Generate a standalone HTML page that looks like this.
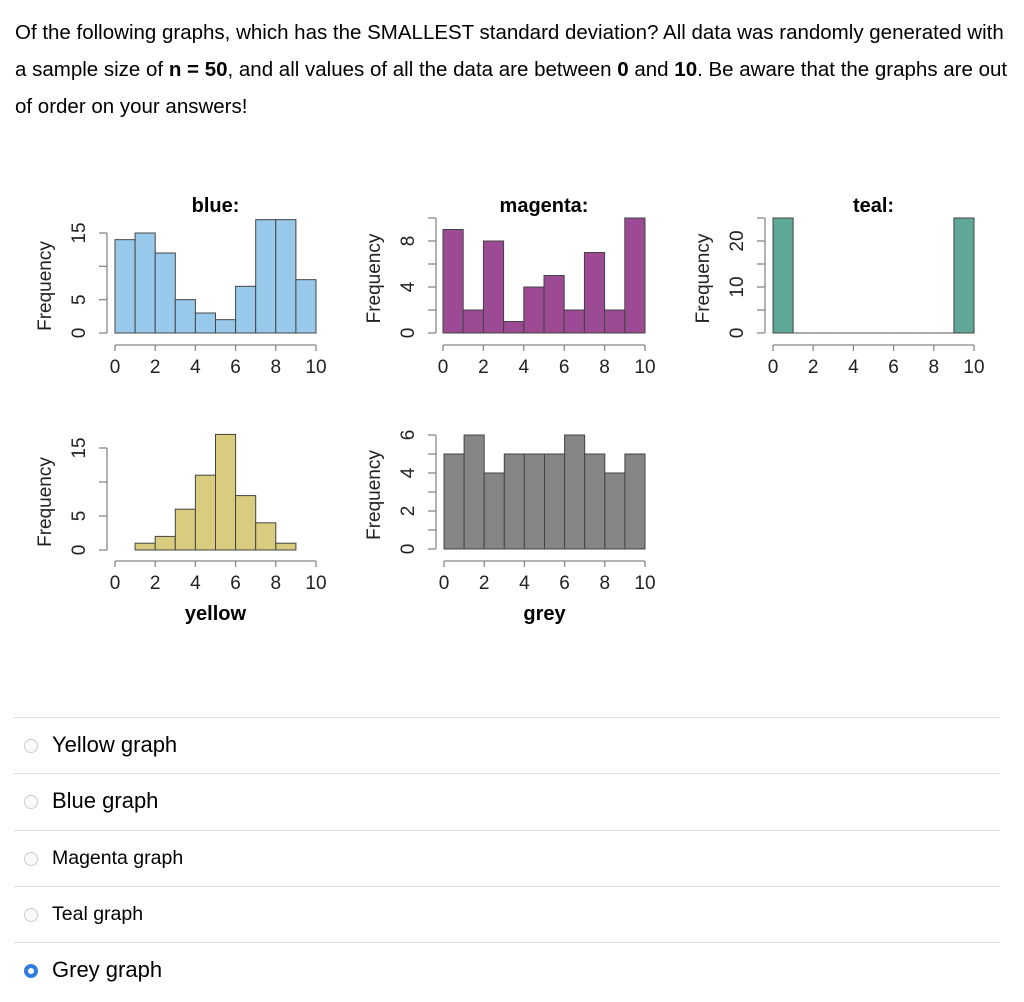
<!DOCTYPE html>
<html><head><meta charset="utf-8">
<style>
body{margin:0;background:#fff;font-family:"Liberation Sans",Arial,sans-serif;color:#000;width:1024px;height:1002px;overflow:hidden;position:relative}
#q{position:absolute;left:15px;top:14px;width:1000px;font-size:20.5px;line-height:37px}
#chart{position:absolute;left:0;top:0}
.opt{position:absolute;left:14px;width:986px;height:56px;border-top:1px solid #ddd}
.opt .r{position:absolute;left:10px;top:21px;width:14px;height:14px;border:1px solid #ccc;border-radius:50%;box-sizing:border-box;background:#fafafa}
.opt .r.on{border:4px solid #2f7de1;background:#fff}
.opt .t{position:absolute;left:38px;top:14px;font-size:22px}
</style></head><body>
<div id="q">Of the following graphs, which has the SMALLEST standard deviation? All data was randomly generated with a sample size of <b>n = 50</b>, and all values of all the data are between <b>0</b> and <b>10</b>. Be aware that the graphs are out of order on your answers!</div>
<svg id="chart" width="1024" height="700"></svg>
<div class="opt" style="top:717px"><div class="r"></div><div class="t">Yellow graph</div></div>
<div class="opt" style="top:773px"><div class="r"></div><div class="t">Blue graph</div></div>
<div class="opt" style="top:830px"><div class="r"></div><div class="t" style="font-size:19.5px;top:16px">Magenta graph</div></div>
<div class="opt" style="top:886px"><div class="r"></div><div class="t" style="font-size:19.5px;top:16px">Teal graph</div></div>
<div class="opt" style="top:942px"><div class="r on"></div><div class="t">Grey graph</div></div>
<script>
const binEdges=[0,1,2,3,4,5,6,7,8,9,10];
const xTicks=[0,2,4,6,8,10];
const blueCounts=[14,15,12,5,3,2,7,17,17,8];
const magentaCounts=[9,2,8,1,4,5,2,7,2,10];
const tealCounts=[25,0,0,0,0,0,0,0,0,25];
const yellowCounts=[0,1,2,6,11,17,8,4,1,0];
const greyCounts=[5,6,4,5,5,5,6,5,4,5];
const blueYTicks=[0,5,10,15], blueYLabels=[0,5,15];
const magentaYTicks=[0,2,4,6,8,10], magentaYLabels=[0,4,8];
const tealYTicks=[0,5,10,15,20,25], tealYLabels=[0,10,20];
const yellowYTicks=[0,5,10,15], yellowYLabels=[0,5,15];
const greyYTicks=[0,1,2,3,4,5,6], greyYLabels=[0,2,4,6];

const svg=document.getElementById('chart');
const NS='http://www.w3.org/2000/svg';
function mk(tag,attrs,parent){const e=document.createElementNS(NS,tag);for(const k in attrs)e.setAttribute(k,attrs[k]);(parent||svg).appendChild(e);return e;}

function hist(name,counts,yTicks,yLabels,ymax,color,o){
  const g=mk('g',{});
  
  
  const xs=v=>o.x0+(v-binEdges[0])/(binEdges[binEdges.length-1]-binEdges[0])*(o.x1-o.x0);
  const ys=v=>o.y0-(v/ymax)*(o.y0-o.yTop);
  counts.forEach((c,i)=>{
    if(c<=0){ if(name==='teal'){const l=mk('line',{x1:xs(binEdges[i]),x2:xs(binEdges[i+1]),y1:o.y0,y2:o.y0,stroke:'#555','stroke-width':1},g);} return;}
    const r=mk('rect',{x:xs(binEdges[i]),y:ys(c),width:xs(binEdges[i+1])-xs(binEdges[i]),height:o.y0-ys(c),fill:color,stroke:'#444','stroke-width':1},g);
    
    
  });
  // x axis
  const xa=mk('g',{},g);
  
  
  mk('line',{x1:xs(xTicks[0]),x2:xs(xTicks[xTicks.length-1]),y1:o.ax,y2:o.ax,stroke:'#888','stroke-width':1.3},xa);
  xTicks.forEach(t=>{
    mk('line',{x1:xs(t),x2:xs(t),y1:o.ax,y2:o.ax+6,stroke:'#888','stroke-width':1.3},xa);
    const tx=mk('text',{x:xs(t),y:o.ax+28,'text-anchor':'middle','font-size':19,fill:'#222'},xa);
    tx.textContent=t;
  });
  // y axis
  const ya=mk('g',{},g);
  
  
  mk('line',{x1:o.yx,x2:o.yx,y1:ys(yTicks[0]),y2:ys(yTicks[yTicks.length-1]),stroke:'#888','stroke-width':1.3},ya);
  yTicks.forEach(t=>mk('line',{x1:o.yx-8,x2:o.yx,y1:ys(t),y2:ys(t),stroke:'#888','stroke-width':1.3},ya));
  yLabels.forEach(t=>{
    const tx=mk('text',{x:0,y:0,'text-anchor':'middle','font-size':19,fill:'#222',transform:`translate(${o.yx-22},${ys(t)}) rotate(-90)`},ya);
    tx.textContent=t;
  });
  const yl=mk('text',{x:0,y:0,'text-anchor':'middle','font-size':19,fill:'#222',transform:`translate(${o.yx-56},${(o.y0+o.yTop)/2+3}) rotate(-90)`},g);
  yl.textContent='Frequency';
  
  
  if(o.title){const t=mk('text',{x:(o.x0+o.x1)/2,y:212,'text-anchor':'middle','font-size':20,'font-weight':'bold'},g);t.textContent=o.title;}
  if(o.xlabel){const t=mk('text',{x:(o.x0+o.x1)/2,y:620,'text-anchor':'middle','font-size':20,'font-weight':'bold'},g);t.textContent=o.xlabel;}
}
hist('blue',blueCounts,blueYTicks,blueYLabels,15,'#98c9ea',{x0:115,x1:316,y0:333,yTop:233,ax:345,yx:107,title:'blue:'});
hist('magenta',magentaCounts,magentaYTicks,magentaYLabels,10,'#9c4a93',{x0:443,x1:645,y0:333,yTop:218,ax:345,yx:436,title:'magenta:'});
hist('teal',tealCounts,tealYTicks,tealYLabels,25,'#5fa796',{x0:773,x1:974,y0:333,yTop:218,ax:345,yx:765,title:'teal:'});
hist('yellow',yellowCounts,yellowYTicks,yellowYLabels,15,'#d9cc7e',{x0:115,x1:316,y0:550,yTop:448,ax:561,yx:107,xlabel:'yellow'});
hist('grey',greyCounts,greyYTicks,greyYLabels,6,'#858585',{x0:444,x1:645,y0:549,yTop:435,ax:561,yx:436,xlabel:'grey'});
</script>
</body></html>
